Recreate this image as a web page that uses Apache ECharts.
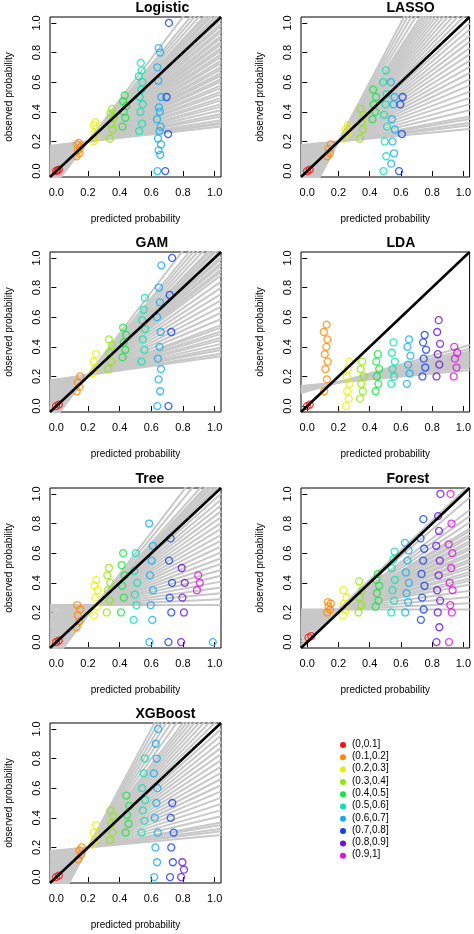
<!DOCTYPE html>
<html><head><meta charset="utf-8">
<script src="https://cdn.jsdelivr.net/npm/echarts@6/dist/echarts.min.js"></script>
<style>html,body{margin:0;background:#fff}#c{width:474px;height:934px}</style>
</head><body><div id="c"></div>
<script>
const panelNames=["Logistic","LASSO","GAM","LDA","Tree","Forest","XGBoost"];
const binLabels=["(0,0.1]","(0.1,0.2]","(0.2,0.3]","(0.3,0.4]","(0.4,0.5]","(0.5,0.6]","(0.6,0.7]","(0.7,0.8]","(0.8,0.9]","(0.9,1]"];
const binColors=["#FF1010","#FF8A00","#E8F000","#8CEB00","#10E840","#00E6B0","#10AEEE","#1040F0","#6A10E0","#E010E0"];
const tickValues=[0,0.2,0.4,0.6,0.8,1.0];
const jitter=[-0.012,0.006,-0.004,0.011,-0.008,0.002,0.009,-0.014,0.004,-0.002,0.013,-0.006];
const clustersLogistic=[[0.01,0,[0,0.01,0.005]],[0.14,1,[0.1,0.12,0.14,0.16,0.18,0.19]],[0.245,2,[0.2,0.23,0.26,0.29,0.31,0.33]],[0.35,3,[0.22,0.28,0.32,0.36,0.39,0.42]],[0.43,4,[0.3,0.36,0.4,0.44,0.47,0.51]],[0.535,5,[0.27,0.32,0.4,0.45,0.5,0.55,0.6,0.64,0.68,0.73]],[0.65,6,[0,0.11,0.14,0.18,0.22,0.27,0.3,0.35,0.4,0.43,0.5,0.61,0.7,0.8,0.83]],[0.7,7,[0,0.25,0.5,1.0]]];
const clustersLASSO=[[0.01,0,[0,0.01]],[0.14,1,[0.1,0.12,0.15,0.18]],[0.25,2,[0.22,0.25,0.28,0.31]],[0.35,3,[0.22,0.28,0.33,0.38,0.42]],[0.43,4,[0.35,0.4,0.45,0.5,0.55]],[0.5,5,[0,0.1,0.2,0.3,0.38,0.45,0.52,0.6,0.68]],[0.55,6,[0.05,0.12,0.2,0.28,0.35,0.45,0.5,0.6]],[0.6,7,[0,0.25,0.45,0.5]]];
const clustersGAM=[[0.01,0,[0,0.01]],[0.14,1,[0.1,0.13,0.16,0.2]],[0.24,2,[0.22,0.26,0.3,0.35]],[0.34,3,[0.25,0.3,0.36,0.41,0.45]],[0.43,4,[0.33,0.38,0.43,0.48,0.53]],[0.55,5,[0.3,0.38,0.45,0.52,0.58,0.65,0.73]],[0.65,6,[0,0.1,0.18,0.25,0.32,0.4,0.5,0.6,0.7,0.8,0.95]],[0.72,7,[0,0.5,0.75,1.0]]];
const clustersLDA=[[0.01,0,[0,0.01]],[0.12,1,[0.1,0.18,0.25,0.3,0.35,0.4,0.45,0.5,0.55]],[0.26,2,[0,0.05,0.1,0.15,0.2,0.25,0.3]],[0.35,3,[0.05,0.1,0.15,0.2,0.25,0.3]],[0.45,4,[0.1,0.15,0.2,0.25,0.3,0.35]],[0.55,5,[0.15,0.2,0.25,0.3,0.36,0.43]],[0.65,6,[0.15,0.22,0.28,0.34,0.4,0.45]],[0.75,7,[0.2,0.26,0.32,0.38,0.43,0.48]],[0.84,8,[0.2,0.28,0.35,0.42,0.5,0.58]],[0.95,9,[0.2,0.26,0.32,0.36,0.4]]];
const clustersTree=[[0.01,0,[0,0.01]],[0.14,1,[0.1,0.14,0.18,0.22,0.25]],[0.25,2,[0.18,0.24,0.3,0.35,0.38,0.42]],[0.33,3,[0.2,0.28,0.35,0.4,0.45,0.5]],[0.42,4,[0.2,0.3,0.38,0.45,0.52,0.6]],[0.5,5,[0.15,0.25,0.32,0.4,0.48,0.6]],[0.6,6,[0,0.15,0.25,0.35,0.45,0.55,0.65,0.8]],[0.72,7,[0,0.2,0.3,0.4,0.55,0.7]],[0.8,8,[0,0.2,0.3,0.4,0.5]],[0.9,9,[0.35,0.4,0.45]],[1.0,6,[0]]];
const clustersForest=[[0.02,0,[0.03,0.04]],[0.14,1,[0.2,0.22,0.24,0.26,0.27]],[0.24,2,[0.18,0.22,0.26,0.3,0.35]],[0.34,3,[0.2,0.25,0.3,0.35,0.41]],[0.45,4,[0.24,0.28,0.33,0.38,0.42,0.46]],[0.55,5,[0.2,0.28,0.35,0.42,0.5,0.56,0.61]],[0.64,6,[0.2,0.27,0.33,0.4,0.47,0.55,0.62,0.67]],[0.74,7,[0.15,0.22,0.3,0.38,0.46,0.55,0.63,0.7,0.83]],[0.84,8,[0,0.1,0.2,0.28,0.35,0.45,0.55,0.65,0.75,0.85,1.0]],[0.92,9,[0,0.2,0.25,0.35,0.4,0.5,0.6,0.66,0.8,1.0]]];
const clustersXGBoost=[[0.01,0,[0,0.01]],[0.15,1,[0.12,0.15,0.18,0.2]],[0.24,2,[0.22,0.26,0.3,0.35]],[0.35,3,[0.25,0.3,0.36,0.41,0.45]],[0.45,4,[0.3,0.36,0.42,0.48,0.55]],[0.55,5,[0.3,0.38,0.45,0.52,0.6,0.7,0.8]],[0.63,6,[0,0.1,0.2,0.3,0.4,0.5,0.6,0.7,0.8,0.9,1.0]],[0.73,7,[0,0.1,0.2,0.3,0.4,0.5]],[0.8,8,[0,0.05,0.1]]];
const pivots=[[0.2,0.2],[0.2,0.2],[0.2,0.21],[0.2,0.16],[0.25,0.25],[0.2,0.22],[0.2,0.2]];
const slopesLogistic=[0.12,0.14,0.15,0.17,0.2,0.22,0.25,0.28,0.3,0.33,0.35,0.38,0.4,0.43,0.45,0.48,0.5,0.53,0.55,0.58,0.6,0.63,0.65,0.68,0.7,0.73,0.75,0.78,0.8,0.83,0.85,0.88,0.9,0.93,0.95,0.98,1.0,1.03,1.05,1.08,1.1,1.13,1.15,1.2,1.25,1.3,1.4];
const slopesLASSO=[0.1,0.13,0.15,0.18,0.2,0.25,0.3,0.35,0.4,0.45,0.5,0.55,0.6,0.65,0.7,0.75,0.8,0.85,0.9,0.95,1.0,1.05,1.1,1.15,1.2,1.25,1.3,1.35,1.4,1.45,1.5,1.55,1.6,1.7,1.8,1.9,2.0];
const slopesGAM=[0.15,0.17,0.2,0.22,0.25,0.28,0.3,0.33,0.35,0.38,0.4,0.45,0.5,0.55,0.6,0.65,0.7,0.75,0.8,0.83,0.85,0.88,0.9,0.93,0.95,0.98,1.0,1.03,1.05,1.08,1.1,1.15,1.2,1.25,1.3,1.4];
const slopesLDA=[0.1,0.12,0.13,0.14,0.15,0.16,0.17,0.18,0.19,0.2,0.21,0.22,0.23,0.24,0.25,0.27,0.3];
const slopesTree=[0.0,0.05,0.1,0.15,0.2,0.25,0.3,0.35,0.4,0.45,0.5,0.55,0.6,0.65,0.7,0.75,0.8,0.85,0.9,0.95,1.0,1.03,1.05,1.08,1.1,1.13,1.15,1.2,1.3,1.4];
const slopesForest=[0.0,0.05,0.1,0.15,0.2,0.23,0.25,0.28,0.3,0.33,0.35,0.38,0.4,0.43,0.45,0.48,0.5,0.53,0.55,0.58,0.6,0.63,0.65,0.7,0.75,0.8,0.9,1.0];
const slopesXGBoost=[0.1,0.13,0.15,0.18,0.2,0.25,0.3,0.35,0.4,0.45,0.5,0.55,0.6,0.65,0.7,0.75,0.8,0.85,0.9,0.95,1.0,1.05,1.1,1.15,1.2,1.25,1.3,1.35,1.4,1.5,1.6,1.7,1.8,1.9,2.0];
const allClusters=[clustersLogistic,clustersLASSO,clustersGAM,clustersLDA,clustersTree,clustersForest,clustersXGBoost];
const allSlopes=[slopesLogistic,slopesLASSO,slopesGAM,slopesLDA,slopesTree,slopesForest,slopesXGBoost];

const colX=[50,301], rowY=[17,252,488,723], W=171, H=160;
const XMIN=-0.04, XMAX=1.04;
const font='"Liberation Sans", Arial, sans-serif';
const grids=[],xAxes=[],yAxes=[],series=[],graphic=[];
panelNames.forEach((name,i)=>{
  const gx=colX[i%2], gy=rowY[Math.floor(i/2)];
  grids.push({left:gx,top:gy,width:W,height:H,show:true,borderColor:'#000',borderWidth:1,backgroundColor:'transparent'});
  const axBase={min:XMIN,max:XMAX,gridIndex:i,splitLine:{show:false},axisLine:{show:false},
    axisTick:{show:true,length:5,lineStyle:{color:'#000'},customValues:tickValues},
    nameTextStyle:{fontFamily:font,fontSize:10,color:'#000'}};
  xAxes.push(Object.assign({},axBase,{type:'value',name:'predicted probability',nameLocation:'middle',nameGap:37,
    axisLabel:{customValues:tickValues,formatter:v=>v.toFixed(1),fontFamily:font,fontSize:11,color:'#000',margin:10}}));
  yAxes.push(Object.assign({},axBase,{type:'value',name:'observed probability',nameLocation:'middle',nameGap:36,
    axisLabel:{customValues:tickValues,formatter:v=>v.toFixed(1),fontFamily:font,fontSize:11,color:'#000',rotate:90,margin:8}}));
  graphic.push({type:'text',left:gx+W/2,top:gy-16,style:{text:name,font:'bold 14px '+font,fill:'#000',textAlign:'center'}});
  const [px,py]=pivots[i];
  allSlopes[i].forEach(b=>{
    series.push({type:'line',xAxisIndex:i,yAxisIndex:i,symbol:'none',silent:true,clip:true,z:1,
      lineStyle:{color:'#c8c8c8',width:2},
      data:[[XMIN,py+b*(XMIN-px)],[XMAX,py+b*(XMAX-px)]]});
  });
  allClusters[i].forEach(([cx,bin,ys])=>{
    series.push({type:'scatter',xAxisIndex:i,yAxisIndex:i,symbol:'circle',symbolSize:7,z:3,clip:false,
      itemStyle:{color:'transparent',borderColor:binColors[bin],borderWidth:1.3},
      data:ys.map((y,k)=>[cx+jitter[k%jitter.length],y])});
  });
  series.push({type:'line',xAxisIndex:i,yAxisIndex:i,symbol:'none',clip:true,z:4,
    lineStyle:{color:'#000',width:2.5},data:[[XMIN,XMIN],[XMAX,XMAX]]});
});
binLabels.forEach((lab,k)=>{
  const y=745+k*12.3;
  graphic.push({type:'circle',shape:{cx:343,cy:y,r:3},style:{fill:binColors[k]}});
  graphic.push({type:'text',left:352,top:y-6,style:{text:lab,font:'10px '+font,fill:'#000'}});
});
const chart=echarts.init(document.getElementById('c'),null,{renderer:'canvas'});
chart.setOption({animation:false,grid:grids,xAxis:xAxes,yAxis:yAxes,series,graphic});
</script></body></html>
